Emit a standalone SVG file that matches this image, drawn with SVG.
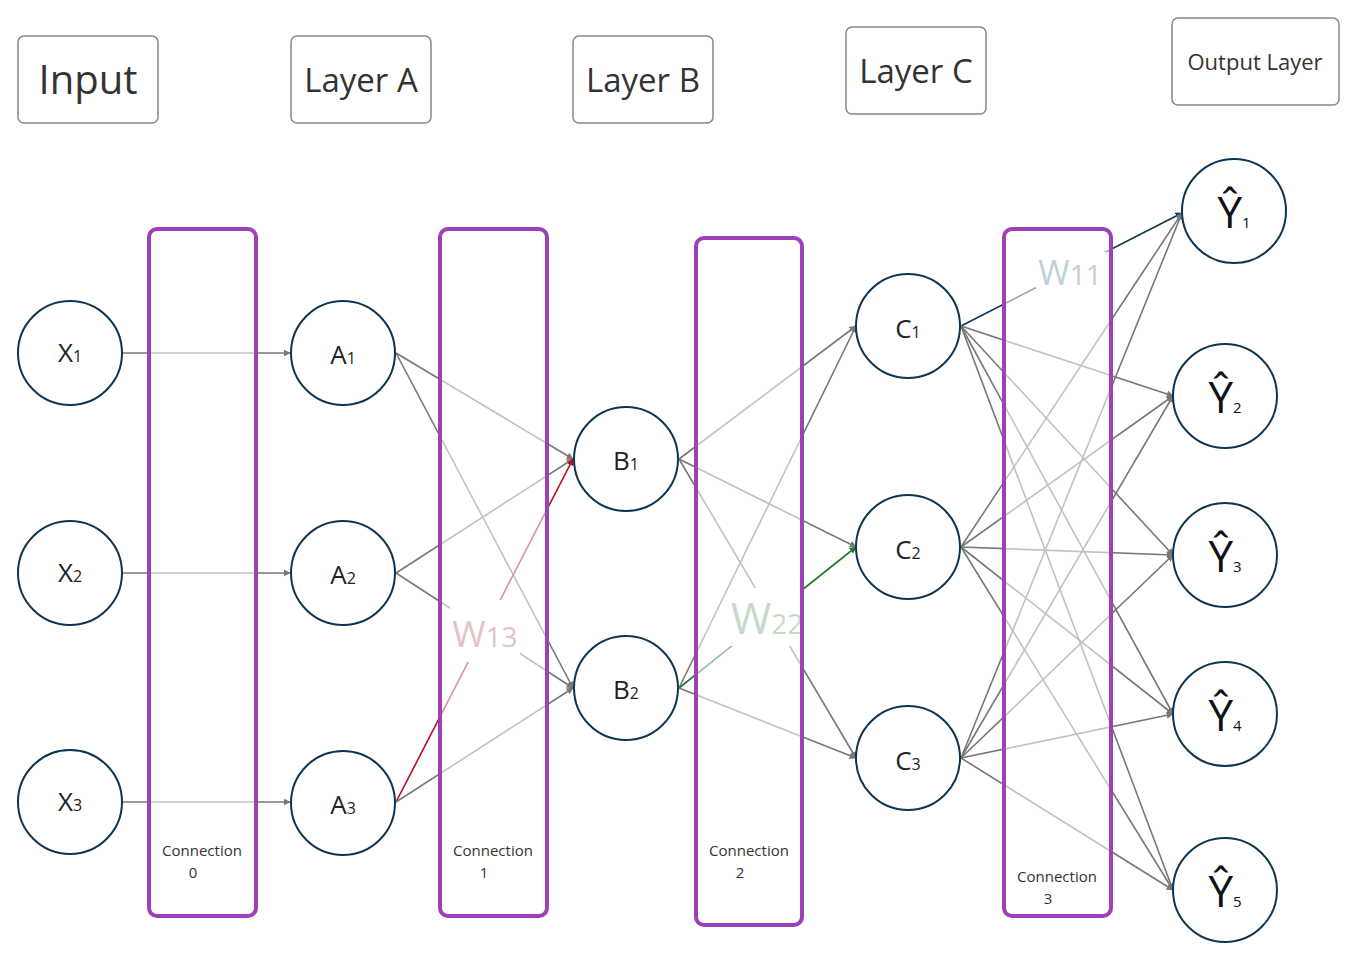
<svg xmlns="http://www.w3.org/2000/svg" width="1358" height="962" viewBox="0 0 1358 962">
<style>
.hdr{fill:#fff;stroke:#888;stroke-width:1.5}
.ht{font-family:"Open Sans",sans-serif;fill:#333}
.n{fill:#fff;stroke:#0d3552;stroke-width:2}
.nt{font-family:"Open Sans",sans-serif;font-size:26px;fill:#222;text-anchor:middle}
.yt{font-family:"Open Sans",sans-serif;font-size:44px;fill:#111;text-anchor:middle}
.c line{stroke:#777;stroke-width:1.6;marker-end:url(#ar)}
.box{fill:#fff;fill-opacity:0.55;stroke:#a040b8;stroke-width:4}
.ct{font-family:"Open Sans",sans-serif;font-size:15px;fill:#333;text-anchor:middle}
</style>
<defs>
<marker id="ar" viewBox="0 0 10 10" refX="9" refY="5" markerWidth="7" markerHeight="7" orient="auto" markerUnits="userSpaceOnUse"><path d="M0,0L10,5L0,10z" fill="#777"/></marker>
<marker id="arr" viewBox="0 0 10 10" refX="9" refY="5" markerWidth="7" markerHeight="7" orient="auto" markerUnits="userSpaceOnUse"><path d="M0,0L10,5L0,10z" fill="#b01020"/></marker>
<marker id="arg" viewBox="0 0 10 10" refX="9" refY="5" markerWidth="7" markerHeight="7" orient="auto" markerUnits="userSpaceOnUse"><path d="M0,0L10,5L0,10z" fill="#1c7a2a"/></marker>
<marker id="arb" viewBox="0 0 10 10" refX="9" refY="5" markerWidth="7" markerHeight="7" orient="auto" markerUnits="userSpaceOnUse"><path d="M0,0L10,5L0,10z" fill="#0d3552"/></marker>
</defs>
<rect width="1358" height="962" fill="#fff"/>
<g id="headers">
<rect class="hdr" x="18" y="36" width="140" height="87" rx="6"/><text class="ht" x="88" y="94" font-size="40" text-anchor="middle">Input</text>
<rect class="hdr" x="291" y="36" width="140" height="87" rx="6"/><text class="ht" x="361" y="92" font-size="33" text-anchor="middle">Layer A</text>
<rect class="hdr" x="573" y="36" width="140" height="87" rx="6"/><text class="ht" x="643" y="92" font-size="33" text-anchor="middle">Layer B</text>
<rect class="hdr" x="846" y="27" width="140" height="87" rx="6"/><text class="ht" x="916" y="83" font-size="33" text-anchor="middle">Layer C</text>
<rect class="hdr" x="1172" y="18" width="167" height="87" rx="6"/><text class="ht" x="1255" y="70" font-size="22" text-anchor="middle">Output Layer</text>
</g>
<g id="connectors" class="c">
<line x1="122" y1="353" x2="290" y2="353"/>
<line x1="122" y1="573" x2="290" y2="573"/>
<line x1="122" y1="802" x2="290" y2="802"/>
<line x1="396" y1="353" x2="573" y2="459"/>
<line x1="396" y1="353" x2="573" y2="688"/>
<line x1="396" y1="573" x2="573" y2="459"/>
<line x1="396" y1="573" x2="573" y2="688"/>
<line x1="396" y1="802" x2="573" y2="459" style="stroke:#b01020;marker-end:url(#arr)"/>
<line x1="396" y1="802" x2="573" y2="688"/>
<line x1="679" y1="459" x2="856" y2="326"/>
<line x1="679" y1="459" x2="856" y2="547"/>
<line x1="679" y1="459" x2="856" y2="758"/>
<line x1="679" y1="688" x2="856" y2="326"/>
<line x1="679" y1="688" x2="856" y2="547" style="stroke:#1c7a2a;marker-end:url(#arg)"/>
<line x1="679" y1="688" x2="856" y2="758"/>
<line x1="961" y1="326" x2="1182" y2="213" style="stroke:#0d3552;marker-end:url(#arb)"/>
<line x1="961" y1="326" x2="1173" y2="396"/>
<line x1="961" y1="326" x2="1173" y2="555"/>
<line x1="961" y1="326" x2="1173" y2="714"/>
<line x1="961" y1="326" x2="1173" y2="890"/>
<line x1="961" y1="547" x2="1182" y2="213"/>
<line x1="961" y1="547" x2="1173" y2="396"/>
<line x1="961" y1="547" x2="1173" y2="555"/>
<line x1="961" y1="547" x2="1173" y2="714"/>
<line x1="961" y1="547" x2="1173" y2="890"/>
<line x1="961" y1="758" x2="1182" y2="213"/>
<line x1="961" y1="758" x2="1173" y2="396"/>
<line x1="961" y1="758" x2="1173" y2="555"/>
<line x1="961" y1="758" x2="1173" y2="714"/>
<line x1="961" y1="758" x2="1173" y2="890"/>
</g>
<g id="weights">
<rect x="1036" y="252" width="70" height="36" fill="#fff"/><text x="1070" y="285" font-family="Open Sans,sans-serif" fill="#6f98ad" text-anchor="middle"><tspan font-size="34">W</tspan><tspan font-size="28">11</tspan></text>
<rect x="450" y="600" width="70" height="62" fill="#fff"/><text x="485" y="647" font-family="Open Sans,sans-serif" fill="#c07884" text-anchor="middle"><tspan font-size="36">W</tspan><tspan font-size="28">13</tspan></text>
<rect x="730" y="588" width="74" height="58" fill="#fff"/><text x="767" y="634" font-family="Open Sans,sans-serif" fill="#7fb07f" text-anchor="middle"><tspan font-size="44">W</tspan><tspan font-size="28">22</tspan></text>
</g>
<g id="connections">
<rect class="box" x="149" y="229" width="107" height="687" rx="8"/><text class="ct" x="202" y="856">Connection</text><text class="ct" x="193" y="878">0</text>
<rect class="box" x="440" y="229" width="107" height="687" rx="8"/><text class="ct" x="493" y="856">Connection</text><text class="ct" x="484" y="878">1</text>
<rect class="box" x="696" y="238" width="106" height="687" rx="8"/><text class="ct" x="749" y="856">Connection</text><text class="ct" x="740" y="878">2</text>
<rect class="box" x="1004" y="229" width="107" height="687" rx="8"/><text class="ct" x="1057" y="882">Connection</text><text class="ct" x="1048" y="904">3</text>
</g>
<g id="X1"><circle class="n" cx="70" cy="353" r="52"/><text class="nt" x="70" y="362">X<tspan font-size="16">1</tspan></text></g>
<g id="X2"><circle class="n" cx="70" cy="573" r="52"/><text class="nt" x="70" y="582">X<tspan font-size="16">2</tspan></text></g>
<g id="X3"><circle class="n" cx="70" cy="802" r="52"/><text class="nt" x="70" y="811">X<tspan font-size="16">3</tspan></text></g>
<g id="A1"><circle class="n" cx="343" cy="353" r="52"/><text class="nt" x="343" y="364">A<tspan font-size="16">1</tspan></text></g>
<g id="A2"><circle class="n" cx="343" cy="573" r="52"/><text class="nt" x="343" y="584">A<tspan font-size="16">2</tspan></text></g>
<g id="A3"><circle class="n" cx="343" cy="803" r="52"/><text class="nt" x="343" y="814">A<tspan font-size="16">3</tspan></text></g>
<g id="B1"><circle class="n" cx="626" cy="459" r="52"/><text class="nt" x="626" y="470">B<tspan font-size="16">1</tspan></text></g>
<g id="B2"><circle class="n" cx="626" cy="688" r="52"/><text class="nt" x="626" y="699">B<tspan font-size="16">2</tspan></text></g>
<g id="C1"><circle class="n" cx="908" cy="326" r="52"/><text class="nt" x="908" y="338">C<tspan font-size="16">1</tspan></text></g>
<g id="C2"><circle class="n" cx="908" cy="547" r="52"/><text class="nt" x="908" y="559">C<tspan font-size="16">2</tspan></text></g>
<g id="C3"><circle class="n" cx="908" cy="758" r="52"/><text class="nt" x="908" y="770">C<tspan font-size="16">3</tspan></text></g>
<g id="Y1"><circle class="n" cx="1234" cy="211" r="52"/><text class="yt" x="1234" y="228">Ŷ<tspan font-size="15">1</tspan></text></g>
<g id="Y2"><circle class="n" cx="1225" cy="396" r="52"/><text class="yt" x="1225" y="413">Ŷ<tspan font-size="15">2</tspan></text></g>
<g id="Y3"><circle class="n" cx="1225" cy="555" r="52"/><text class="yt" x="1225" y="572">Ŷ<tspan font-size="15">3</tspan></text></g>
<g id="Y4"><circle class="n" cx="1225" cy="714" r="52"/><text class="yt" x="1225" y="731">Ŷ<tspan font-size="15">4</tspan></text></g>
<g id="Y5"><circle class="n" cx="1225" cy="890" r="52"/><text class="yt" x="1225" y="907">Ŷ<tspan font-size="15">5</tspan></text></g>
</svg>
